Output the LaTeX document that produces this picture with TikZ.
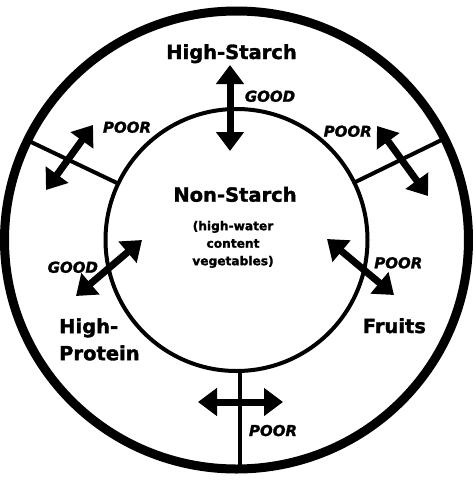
\documentclass[tikz,border=0pt]{standalone}
\usepackage{fontspec}
\setmainfont{DejaVu Sans}[BoldFeatures={FakeBold=1.6},BoldItalicFeatures={FakeBold=1.6}]
\usetikzlibrary{arrows.meta}

\tikzset{
  twoway/.style={line width=7pt,{Triangle[length=19pt,width=27pt]}-{Triangle[length=19pt,width=27pt]}},
  group/.style={font=\bfseries\fontsize{19.5}{27}\selectfont,inner sep=0pt},
  match/.style={font=\bfseries\itshape\fontsize{15}{18}\selectfont,inner sep=0pt},
  note/.style={font=\bfseries\fontsize{12.2}{17.5}\selectfont,inner sep=0pt,align=center},
  divider/.style={line width=4pt}
}

\begin{document}
\begin{tikzpicture}[x=1pt,y=-1pt]
\useasboundingbox (0,0) rectangle (476,482);
\coordinate (c) at (236.5,240);
\draw[divider] (c) ++(-154.5:131) -- ++(-154.5:100);
\draw[divider] (c) ++(-26:131) -- ++(-26:100);
\draw[divider] (240,370) -- (240,470);
\draw[line width=4pt] (c) circle [radius=131];
\draw[line width=9pt] (c) ellipse [x radius=232, y radius=229];

\coordinate (starchA) at (230,65);   \coordinate (starchB) at (230,151);
\coordinate (tlA) at (93,125);       \coordinate (tlB) at (46,190);
\coordinate (trA) at (377,126);      \coordinate (trB) at (428,196);
\coordinate (protA) at (142,240);    \coordinate (protB) at (76,296);
\coordinate (fruitA) at (327,239);   \coordinate (fruitB) at (394,295);
\coordinate (botA) at (198,402);     \coordinate (botB) at (283,402);
\draw[twoway] (starchA) -- (starchB);
\draw[twoway] (tlA) -- (tlB);
\draw[twoway] (trA) -- (trB);
\draw[twoway] (protA) -- (protB);
\draw[twoway] (fruitA) -- (fruitB);
\draw[twoway] (botA) -- (botB);

\node[group,anchor=base] (starch) at (231.5,59) {High-Starch};
\node[group,anchor=base] (nonstarch) at (235,201.7) {Non-Starch};
\node[note,anchor=north] (water) at (233,220.7) {(high-water\\content\\vegetables)};
\node[group,anchor=north west,align=left] (protein) at (59,318.2) {High-\\Protein};
\node[group,anchor=base] (fruits) at (394.3,333) {Fruits};

\node[match,anchor=base] (goodtop) at (270,101.7) {GOOD};
\node[match,anchor=base] (poortl) at (127,132.7) {POOR};
\node[match,anchor=base] (poortr) at (347.7,136.7) {POOR};
\node[match,anchor=base] (goodleft) at (72.8,272.7) {GOOD};
\node[match,anchor=base] (poorright) at (398.3,268.3) {POOR};
\node[match,anchor=base] (poorbot) at (273,436) {POOR};
\end{tikzpicture}
\end{document}
